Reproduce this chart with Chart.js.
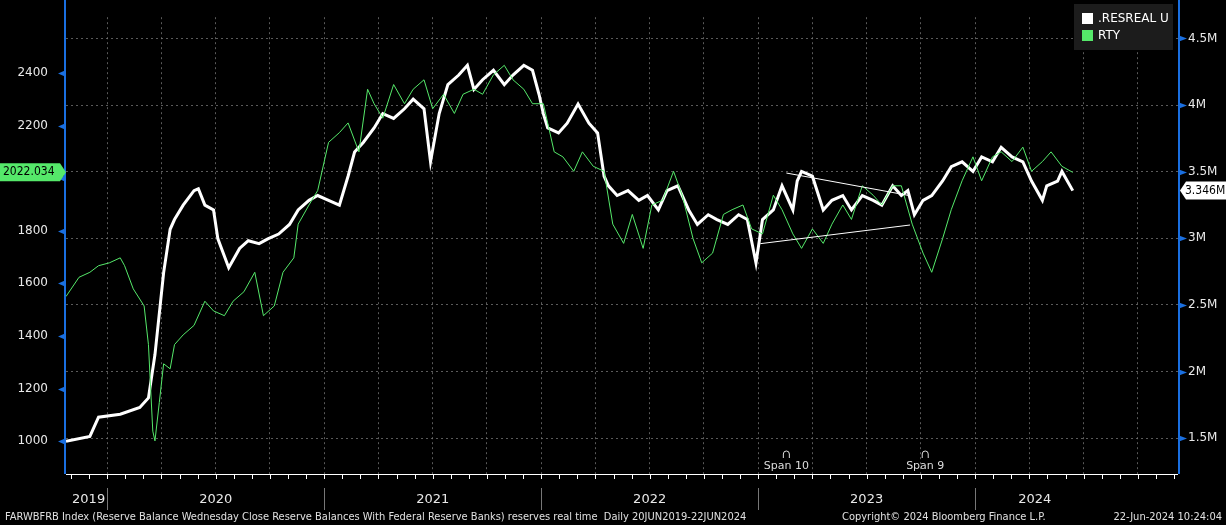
<!DOCTYPE html>
<html>
<head>
<meta charset="utf-8">
<script src="https://cdn.jsdelivr.net/npm/chart.js@4/dist/chart.umd.min.js"></script>
<style>
  html, body { margin: 0; padding: 0; background: #000; }
  #wrap { width: 1226px; height: 525px; position: relative; }
</style>
</head>
<body>
<div id="wrap"><canvas id="chart" width="1226" height="525"></canvas></div>
<script>
// .RESREAL U (reserves, millions, right axis) - time in fractional years
const resTimes = [2019.81,2019.92,2019.96,2020.06,2020.15,2020.19,2020.22,2020.26,2020.29,2020.31,2020.35,2020.40,2020.42,2020.45,2020.49,2020.51,2020.56,2020.61,2020.65,2020.70,2020.74,2020.79,2020.84,2020.88,2020.93,2020.97,2021.02,2021.07,2021.11,2021.14,2021.18,2021.23,2021.27,2021.32,2021.37,2021.41,2021.46,2021.49,2021.53,2021.57,2021.62,2021.66,2021.69,2021.73,2021.78,2021.83,2021.87,2021.92,2021.96,2021.99,2022.01,2022.03,2022.08,2022.12,2022.17,2022.22,2022.26,2022.29,2022.31,2022.35,2022.40,2022.45,2022.49,2022.54,2022.58,2022.63,2022.68,2022.72,2022.77,2022.81,2022.86,2022.91,2022.95,2022.99,2023.02,2023.07,2023.11,2023.16,2023.18,2023.20,2023.25,2023.30,2023.34,2023.39,2023.43,2023.48,2023.53,2023.57,2023.62,2023.66,2023.69,2023.72,2023.76,2023.80,2023.85,2023.89,2023.94,2023.99,2024.03,2024.08,2024.12,2024.17,2024.22,2024.26,2024.31,2024.33,2024.38,2024.40,2024.45];
const resValues = [1.478,1.514,1.658,1.680,1.731,1.803,2.128,2.743,3.068,3.141,3.249,3.358,3.372,3.249,3.213,2.996,2.779,2.924,2.982,2.960,2.996,3.032,3.104,3.213,3.285,3.321,3.285,3.249,3.466,3.647,3.719,3.828,3.936,3.900,3.972,4.044,3.972,3.574,3.936,4.153,4.225,4.298,4.117,4.190,4.261,4.153,4.225,4.298,4.261,4.081,3.936,3.828,3.791,3.864,4.008,3.864,3.791,3.466,3.394,3.321,3.358,3.285,3.321,3.213,3.358,3.394,3.213,3.104,3.177,3.141,3.104,3.177,3.141,2.815,3.141,3.213,3.394,3.213,3.430,3.502,3.466,3.213,3.285,3.321,3.213,3.321,3.285,3.249,3.394,3.321,3.358,3.177,3.285,3.321,3.430,3.538,3.574,3.502,3.611,3.574,3.683,3.611,3.574,3.430,3.285,3.394,3.430,3.502,3.358];
// RTY (Russell 2000, left axis)
const rtyTimes = [2019.81,2019.87,2019.92,2019.96,2020.01,2020.06,2020.08,2020.12,2020.17,2020.19,2020.21,2020.22,2020.24,2020.26,2020.29,2020.31,2020.35,2020.40,2020.45,2020.49,2020.54,2020.58,2020.63,2020.68,2020.72,2020.77,2020.81,2020.86,2020.88,2020.93,2020.97,2021.02,2021.07,2021.11,2021.16,2021.20,2021.23,2021.27,2021.32,2021.37,2021.41,2021.46,2021.50,2021.55,2021.60,2021.64,2021.69,2021.73,2021.78,2021.83,2021.87,2021.92,2021.96,2022.01,2022.06,2022.10,2022.15,2022.19,2022.24,2022.29,2022.33,2022.38,2022.42,2022.47,2022.51,2022.56,2022.61,2022.65,2022.70,2022.74,2022.79,2022.84,2022.88,2022.93,2022.97,2023.02,2023.07,2023.11,2023.16,2023.20,2023.25,2023.30,2023.34,2023.39,2023.43,2023.48,2023.53,2023.57,2023.62,2023.66,2023.71,2023.76,2023.80,2023.85,2023.89,2023.94,2023.99,2024.03,2024.08,2024.12,2024.17,2024.22,2024.26,2024.31,2024.35,2024.40,2024.45];
const rtyValues = [1550,1623,1642,1667,1678,1697,1667,1579,1514,1367,1038,1001,1147,1294,1275,1367,1404,1440,1532,1495,1477,1532,1568,1642,1477,1514,1642,1697,1825,1898,1953,2136,2173,2210,2100,2338,2283,2228,2356,2283,2338,2374,2264,2319,2246,2319,2338,2319,2393,2429,2374,2338,2283,2283,2100,2081,2026,2100,2045,2026,1825,1752,1862,1733,1898,1916,2026,1935,1770,1678,1715,1862,1880,1898,1807,1788,1935,1880,1788,1733,1807,1752,1825,1898,1843,1971,1935,1898,1971,1971,1825,1715,1642,1770,1880,1990,2081,1990,2081,2100,2063,2118,2026,2063,2100,2045,2022];

const yearLabels = ['2019', '2020', '2021', '2022', '2023', '2024'];
const leftTicks = [1000, 1200, 1400, 1600, 1800, 2000, 2200, 2400];
const rightTicks = [1.5, 2, 2.5, 3, 3.5, 4, 4.5];

const AXIS_BLUE = '#1a6fe0';
const GRID = 'rgba(120,120,120,0.75)';

// extra drawing: axis lines, legend, year labels, footer, last value tags, trend lines
const overlay = {
  id: 'overlay',
  afterDraw(c) {
    const ctx = c.ctx, xs = c.scales.x, yl = c.scales.yL, yr = c.scales.yR, a = c.chartArea;
    ctx.save();
    // blue vertical axes with arrow ticks
    ctx.strokeStyle = AXIS_BLUE; ctx.lineWidth = 2;
    ctx.beginPath(); ctx.moveTo(a.left - 1, 0); ctx.lineTo(a.left - 1, a.bottom); ctx.moveTo(a.right + 1, 0); ctx.lineTo(a.right + 1, a.bottom); ctx.stroke();
    ctx.fillStyle = AXIS_BLUE;
    leftTicks.forEach(v => {
      const y = Math.round(yl.getPixelForValue(v)) + 0.5;
      ctx.beginPath(); ctx.moveTo(a.left - 1, y - 3); ctx.lineTo(a.left - 8, y); ctx.lineTo(a.left - 1, y + 3); ctx.fill();
    });
    rightTicks.forEach(v => {
      const y = Math.round(yr.getPixelForValue(v)) + 0.5;
      ctx.beginPath(); ctx.moveTo(a.right + 1, y - 3); ctx.lineTo(a.right + 9, y); ctx.lineTo(a.right + 1, y + 3); ctx.fill();
    });
    // monthly ticks on time axis
    ctx.strokeStyle = '#fff'; ctx.lineWidth = 1;
    ctx.beginPath(); ctx.moveTo(a.left, a.bottom + 0.5); ctx.lineTo(a.right, a.bottom + 0.5); ctx.stroke();
    for (let m = Math.ceil(2019.81 * 12); m <= 2024.93 * 12; m++) {
      const x = Math.round(xs.getPixelForValue(m / 12)) + 0.5;
      ctx.beginPath(); ctx.moveTo(x, a.bottom); ctx.lineTo(x, a.bottom + 5); ctx.stroke();
    }
    // year separators and labels
    ctx.font = '13px "DejaVu Sans", sans-serif'; ctx.fillStyle = '#e8e8e8';
    ctx.textAlign = 'center'; ctx.textBaseline = 'middle';
    ctx.strokeStyle = '#777';
    yearLabels.forEach((y, i) => {
      const yr0 = +y;
      const x0 = Math.max(xs.getPixelForValue(yr0), a.left);
      const x1 = Math.min(xs.getPixelForValue(yr0 + 1), xs.getPixelForValue(2024.55));
      if (i > 0) {
        ctx.beginPath(); ctx.moveTo(Math.round(x0) + 0.5, a.bottom + 14); ctx.lineTo(Math.round(x0) + 0.5, a.bottom + 36); ctx.stroke();
      }
      ctx.fillText(y, (x0 + x1) / 2 + (i === 0 ? 2 : 0), a.bottom + 26);
    });
    // footer
    ctx.font = '11px "DejaVu Sans Condensed", "DejaVu Sans", sans-serif';
    ctx.textAlign = 'left'; ctx.fillStyle = '#e0e0e0';
    ctx.fillText('FARWBFRB Index (Reserve Balance Wednesday Close Reserve Balances With Federal Reserve Banks) reserves real time  Daily 20JUN2019-22JUN2024', 5, 517);
    ctx.fillText('Copyright\u00a9 2024 Bloomberg Finance L.P.', 842, 517);
    ctx.textAlign = 'right';
    ctx.fillText('22-Jun-2024 10:24:04', 1222, 517);
    // trend lines
    ctx.strokeStyle = '#fff'; ctx.lineWidth = 1;
    const P = (t, v) => [xs.getPixelForValue(t), yr.getPixelForValue(v)];
    [[[2023.13, 3.49], [2023.70, 3.32]], [[2023.01, 2.96], [2023.70, 3.10]]].forEach(l => {
      const p0 = P(...l[0]), p1 = P(...l[1]);
      ctx.beginPath(); ctx.moveTo(p0[0], p0[1]); ctx.lineTo(p1[0], p1[1]); ctx.stroke();
    });
    // span markers
    ctx.font = '11px "DejaVu Sans", sans-serif'; ctx.textAlign = 'center'; ctx.fillStyle = '#ddd';
    [['Span 10', 2023.13], ['Span 9', 2023.77]].forEach(s => {
      const x = xs.getPixelForValue(s[1]);
      ctx.strokeStyle = '#ddd';
      ctx.beginPath(); ctx.arc(x, 454, 3, Math.PI, 0); ctx.moveTo(x - 3, 454); ctx.lineTo(x - 3, 458); ctx.moveTo(x + 3, 454); ctx.lineTo(x + 3, 458); ctx.stroke();
      ctx.fillText(s[0], x, 466);
    });
    // last value tags
    const gy = yl.getPixelForValue(rtyValues[rtyValues.length - 1]);
    ctx.fillStyle = '#55e86a';
    ctx.beginPath(); ctx.moveTo(0, gy - 9); ctx.lineTo(60, gy - 9); ctx.lineTo(66, gy); ctx.lineTo(60, gy + 9); ctx.lineTo(0, gy + 9); ctx.fill();
    ctx.fillStyle = '#000'; ctx.textAlign = 'left'; ctx.font = '12px "DejaVu Sans Condensed", sans-serif';
    ctx.fillText('2022.034', 3, gy);
    const wy = yr.getPixelForValue(resValues[resValues.length - 1]);
    ctx.fillStyle = '#fff';
    ctx.beginPath(); ctx.moveTo(1180, wy); ctx.lineTo(1186, wy - 9); ctx.lineTo(1226, wy - 9); ctx.lineTo(1226, wy + 9); ctx.lineTo(1186, wy + 9); ctx.fill();
    ctx.fillStyle = '#000'; ctx.fillText('3.346M', 1185, wy);
    // legend
    ctx.fillStyle = '#1c1c1c';
    ctx.fillRect(1074, 4, 99, 46);
    ctx.fillStyle = '#fff'; ctx.fillRect(1082, 13, 11, 11);
    ctx.fillStyle = '#55e86a'; ctx.fillRect(1082, 30, 11, 11);
    ctx.fillStyle = '#fff'; ctx.font = '12px "DejaVu Sans", sans-serif';
    ctx.fillText('.RESREAL U', 1098, 19);
    ctx.fillText('RTY', 1098, 36);
    ctx.restore();
  }
};

new Chart(document.getElementById('chart'), {
  type: 'line',
  data: {
    datasets: [
      { label: 'RTY', data: rtyTimes.map((t, i) => ({ x: t, y: rtyValues[i] })), yAxisID: 'yL',
        borderColor: '#55e86a', borderWidth: 1, pointRadius: 0, tension: 0 },
      { label: '.RESREAL U', data: resTimes.map((t, i) => ({ x: t, y: resValues[i] })), yAxisID: 'yR',
        borderColor: '#ffffff', borderWidth: 3, pointRadius: 0, tension: 0 }
    ]
  },
  options: {
    responsive: false, animation: false,
    layout: { padding: 0 },
    plugins: { legend: { display: false }, tooltip: { enabled: false } },
    scales: {
      x: {
        type: 'linear', min: 2019.81, max: 2024.935,
        afterFit: s => { s.height = 51; },
        afterBuildTicks: s => { const t = []; for (let q = 2020; q < 2024.93; q += 0.25) t.push({ value: q }); s.ticks = t; },
        ticks: { display: false },
        border: { display: false, dash: [2, 3] },
        grid: { color: GRID, drawTicks: false, lineWidth: 1 }
      },
      yL: {
        position: 'left', min: 875, max: 2612,
        afterFit: s => { s.width = 66; },
        afterBuildTicks: s => { s.ticks = leftTicks.map(v => ({ value: v })); },
        ticks: { color: '#e8e8e8', font: { size: 12, family: '"DejaVu Sans", sans-serif' }, padding: 10, callback: v => String(v) },
        border: { display: false },
        grid: { display: false }
      },
      yR: {
        position: 'right', min: 1.232, max: 4.659,
        afterFit: s => { s.width = 48; },
        afterBuildTicks: s => { s.ticks = rightTicks.map(v => ({ value: v })); },
        ticks: { color: '#e8e8e8', font: { size: 12, family: '"DejaVu Sans", sans-serif' }, padding: 10, callback: v => v + 'M' },
        border: { display: false, dash: [2, 3] },
        grid: { color: GRID, drawTicks: false }
      }
    }
  },
  plugins: [{
    id: 'bg',
    beforeDraw(c) { c.ctx.fillStyle = '#000'; c.ctx.fillRect(0, 0, c.width, c.height); }
  }, overlay]
});
</script>
</body>
</html>
